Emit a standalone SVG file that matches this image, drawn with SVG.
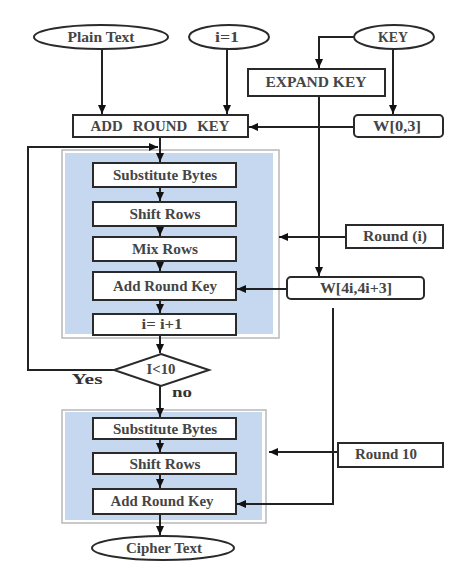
<svg xmlns="http://www.w3.org/2000/svg" width="474" height="566" viewBox="0 0 474 566">
<style>
.shape{fill:#fff;stroke:#2a2a2a;stroke-width:2}
.panel{fill:#fff;stroke:#b8b8b8;stroke-width:1.5}
.blue{fill:#c6d8f0;stroke:none}
.t{font-family:"Liberation Serif","Times New Roman",serif;font-weight:bold;font-size:14px;fill:#454545;text-anchor:middle}
.big{font-size:15px;fill:#333}
.c{fill:none;stroke:#222;stroke-width:2}
</style>
<defs>
<marker id="ah" markerUnits="userSpaceOnUse" markerWidth="10" markerHeight="9" refX="9" refY="4" orient="auto">
<path d="M0,0 L9,4 L0,8 z" fill="#111"/>
</marker>
</defs>
<rect width="474" height="566" fill="#fff"/>
<g id="panel1"><rect class="panel" x="62" y="150" width="217" height="188"/><rect class="blue" x="65" y="153" width="208" height="181"/></g>
<g id="panel2"><rect class="panel" x="62" y="410" width="204" height="113"/><rect class="blue" x="65" y="412" width="197" height="108"/></g>
<g id="connectors">
<path class="c" d="M102,49 V114" marker-end="url(#ah)"/>
<path class="c" d="M227,49 V114" marker-end="url(#ah)"/>
<path class="c" d="M354,37 H319 V68" marker-end="url(#ah)"/>
<path class="c" d="M393,49 V114" marker-end="url(#ah)"/>
<path class="c" d="M354,127 H249" marker-end="url(#ah)"/>
<path class="c" d="M319,96 V276" marker-end="url(#ah)"/>
<path class="c" d="M160,137 V162" marker-end="url(#ah)"/>
<path class="c" d="M114,370 H28 V147 H158" marker-end="url(#ah)"/>
<path class="c" d="M160,187 V201" marker-end="url(#ah)"/>
<path class="c" d="M160,226 V236" marker-end="url(#ah)"/>
<path class="c" d="M160,261 V271" marker-end="url(#ah)"/>
<path class="c" d="M346,237 H279" marker-end="url(#ah)"/>
<path class="c" d="M287,289 H237" marker-end="url(#ah)"/>
<path class="c" d="M160,300 V313" marker-end="url(#ah)"/>
<path class="c" d="M160,335 V353" marker-end="url(#ah)"/>
<path class="c" d="M160,386 V417" marker-end="url(#ah)"/>
<path class="c" d="M160,439 V452" marker-end="url(#ah)"/>
<path class="c" d="M160,474 V488" marker-end="url(#ah)"/>
<path class="c" d="M338,452 H269" marker-end="url(#ah)"/>
<path class="c" d="M333,308 V504 H237" marker-end="url(#ah)"/>
<path class="c" d="M160,514 V535" marker-end="url(#ah)"/>
</g>
<g id="plaintext"><ellipse class="shape" cx="101" cy="37" rx="67" ry="12"/><text class="t" x="101" y="42" textLength="67" lengthAdjust="spacingAndGlyphs">Plain Text</text></g>
<g id="i1"><ellipse class="shape" cx="229" cy="37" rx="40" ry="12"/><text class="t" x="227" y="42" textLength="24" lengthAdjust="spacingAndGlyphs">i=1</text></g>
<g id="key"><ellipse class="shape" cx="394" cy="37" rx="40" ry="12"/><text class="t" x="393" y="42" textLength="30" lengthAdjust="spacingAndGlyphs">KEY</text></g>
<g id="expandkey"><rect class="shape" x="248" y="69" width="137" height="27"/><text class="t" x="316" y="87" textLength="101" lengthAdjust="spacingAndGlyphs">EXPAND KEY</text></g>
<g id="addroundkey0"><rect class="shape" x="73" y="115" width="175" height="22"/><text class="t" x="160" y="131" word-spacing="6" textLength="139" lengthAdjust="spacingAndGlyphs">ADD ROUND KEY</text></g>
<g id="w03"><rect class="shape" x="354" y="115" width="89" height="22" rx="4"/><text class="t" x="397" y="131" textLength="48" lengthAdjust="spacingAndGlyphs">W[0,3]</text></g>
<g id="subbytes1"><rect class="shape" x="93" y="163" width="143" height="24"/><text class="t" x="165" y="180" textLength="104" lengthAdjust="spacingAndGlyphs">Substitute Bytes</text></g>
<g id="shiftrows1"><rect class="shape" x="93" y="202" width="143" height="24"/><text class="t" x="165" y="219" textLength="71" lengthAdjust="spacingAndGlyphs">Shift Rows</text></g>
<g id="mixrows"><rect class="shape" x="93" y="237" width="143" height="24"/><text class="t" x="165" y="254" textLength="66" lengthAdjust="spacingAndGlyphs">Mix Rows</text></g>
<g id="roundi"><rect class="shape" x="346" y="225" width="97" height="23"/><text class="t" x="395" y="241" textLength="64" lengthAdjust="spacingAndGlyphs">Round (i)</text></g>
<g id="addroundkey1"><rect class="shape" x="93" y="272" width="143" height="28"/><text class="t" x="165" y="291" textLength="104" lengthAdjust="spacingAndGlyphs">Add Round Key</text></g>
<g id="w4i"><rect class="shape" x="287" y="277" width="137" height="22" rx="4"/><text class="t" x="356" y="293" textLength="72" lengthAdjust="spacingAndGlyphs">W[4i,4i+3]</text></g>
<g id="inc"><rect class="shape" x="93" y="314" width="143" height="21"/><text class="t" x="162" y="329" font-size="12" textLength="41" lengthAdjust="spacingAndGlyphs">i= i+1</text></g>
<g id="decision"><polygon class="shape" points="161,354 209,370 161,386 114,370"/><text class="t" x="161" y="374" font-size="11" textLength="29" lengthAdjust="spacingAndGlyphs">I&lt;10</text></g>
<text class="t big" x="87" y="384" textLength="31" lengthAdjust="spacingAndGlyphs">Yes</text>
<text class="t big" x="182" y="397" textLength="20" lengthAdjust="spacingAndGlyphs">no</text>
<g id="subbytes2"><rect class="shape" x="93" y="418" width="143" height="21"/><text class="t" x="165" y="434" textLength="104" lengthAdjust="spacingAndGlyphs">Substitute Bytes</text></g>
<g id="shiftrows2"><rect class="shape" x="93" y="453" width="143" height="21"/><text class="t" x="165" y="469" textLength="71" lengthAdjust="spacingAndGlyphs">Shift Rows</text></g>
<g id="round10"><rect class="shape" x="338" y="443" width="105" height="24"/><text class="t" x="386" y="459" textLength="62" lengthAdjust="spacingAndGlyphs">Round 10</text></g>
<g id="addroundkey2"><rect class="shape" x="93" y="489" width="143" height="25"/><text class="t" x="162" y="506" textLength="103" lengthAdjust="spacingAndGlyphs">Add Round Key</text></g>
<g id="ciphertext"><ellipse class="shape" cx="163" cy="548" rx="71" ry="12"/><text class="t" x="164" y="553" textLength="76" lengthAdjust="spacingAndGlyphs">Cipher Text</text></g>
</svg>
